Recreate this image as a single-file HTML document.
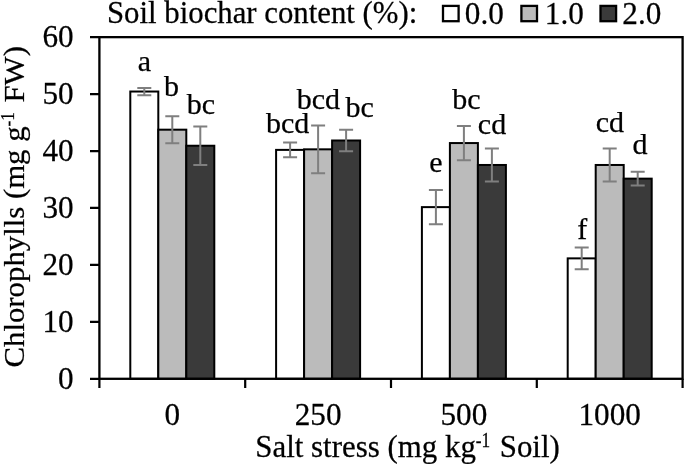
<!DOCTYPE html>
<html><head><meta charset="utf-8"><title>Chlorophylls chart</title>
<style>
html,body{margin:0;padding:0;background:#fff;}
body{width:685px;height:464px;overflow:hidden;}
svg{display:block;}
text{font-family:"Liberation Serif","Times New Roman",serif;fill:#000;stroke:#000;stroke-width:0.25px;}
</style></head><body>
<svg width="685" height="464" viewBox="0 0 685 464">
<rect x="0" y="0" width="685" height="464" fill="#fff"/>

<rect x="130.30" y="91.53" width="28.00" height="287.27" fill="#ffffff" stroke="#000" stroke-width="2"/>
<rect x="158.30" y="129.68" width="28.00" height="249.12" fill="#bbbbbb" stroke="#000" stroke-width="2"/>
<rect x="186.30" y="145.74" width="28.00" height="233.06" fill="#3a3a3a" stroke="#000" stroke-width="2"/>
<rect x="276.10" y="149.89" width="28.00" height="228.91" fill="#ffffff" stroke="#000" stroke-width="2"/>
<rect x="304.10" y="149.33" width="28.00" height="229.47" fill="#bbbbbb" stroke="#000" stroke-width="2"/>
<rect x="332.10" y="140.50" width="28.00" height="238.30" fill="#3a3a3a" stroke="#000" stroke-width="2"/>
<rect x="421.90" y="207.12" width="28.00" height="171.68" fill="#ffffff" stroke="#000" stroke-width="2"/>
<rect x="449.90" y="143.06" width="28.00" height="235.74" fill="#bbbbbb" stroke="#000" stroke-width="2"/>
<rect x="477.90" y="164.98" width="28.00" height="213.82" fill="#3a3a3a" stroke="#000" stroke-width="2"/>
<rect x="567.70" y="258.37" width="28.00" height="120.43" fill="#ffffff" stroke="#000" stroke-width="2"/>
<rect x="595.70" y="164.98" width="28.00" height="213.82" fill="#bbbbbb" stroke="#000" stroke-width="2"/>
<rect x="623.70" y="178.65" width="28.00" height="200.15" fill="#3a3a3a" stroke="#000" stroke-width="2"/>
<path d="M144.30 87.89V95.17M137.30 87.89H151.30M137.30 95.17H151.30" stroke="#7f7f7f" stroke-width="2" fill="none"/>
<path d="M172.30 116.13V143.23M165.30 116.13H179.30M165.30 143.23H179.30" stroke="#7f7f7f" stroke-width="2" fill="none"/>
<path d="M200.30 126.38V165.10M193.30 126.38H207.30M193.30 165.10H207.30" stroke="#7f7f7f" stroke-width="2" fill="none"/>
<path d="M290.10 142.49V157.30M283.10 142.49H297.10M283.10 157.30H297.10" stroke="#7f7f7f" stroke-width="2" fill="none"/>
<path d="M318.10 125.41V173.24M311.10 125.41H325.10M311.10 173.24H325.10" stroke="#7f7f7f" stroke-width="2" fill="none"/>
<path d="M346.10 129.68V151.32M339.10 129.68H353.10M339.10 151.32H353.10" stroke="#7f7f7f" stroke-width="2" fill="none"/>
<path d="M435.90 190.04V224.20M428.90 190.04H442.90M428.90 224.20H442.90" stroke="#7f7f7f" stroke-width="2" fill="none"/>
<path d="M463.90 125.98V160.14M456.90 125.98H470.90M456.90 160.14H470.90" stroke="#7f7f7f" stroke-width="2" fill="none"/>
<path d="M491.90 148.47V181.50M484.90 148.47H498.90M484.90 181.50H498.90" stroke="#7f7f7f" stroke-width="2" fill="none"/>
<path d="M581.70 247.55V269.19M574.70 247.55H588.70M574.70 269.19H588.70" stroke="#7f7f7f" stroke-width="2" fill="none"/>
<path d="M609.70 148.47V181.50M602.70 148.47H616.70M602.70 181.50H616.70" stroke="#7f7f7f" stroke-width="2" fill="none"/>
<path d="M637.70 171.82V185.48M630.70 171.82H644.70M630.70 185.48H644.70" stroke="#7f7f7f" stroke-width="2" fill="none"/>
<rect x="99.4" y="37.15" width="583.20" height="341.65" fill="none" stroke="#000" stroke-width="2.3"/>
<path d="M90.00 378.80H99.40M90.00 321.86H99.40M90.00 264.92H99.40M90.00 207.97H99.40M90.00 151.03H99.40M90.00 94.09H99.40M90.00 37.15H99.40M99.40 378.80V388.00M245.20 378.80V388.00M391.00 378.80V388.00M536.80 378.80V388.00M682.60 378.80V388.00" stroke="#000" stroke-width="2.2" fill="none"/>
<text transform="translate(73.60 389.00) scale(1 1.035)" font-size="31.2" text-anchor="end">0</text>
<text transform="translate(73.60 332.06) scale(1 1.035)" font-size="31.2" text-anchor="end">10</text>
<text transform="translate(73.60 275.12) scale(1 1.035)" font-size="31.2" text-anchor="end">20</text>
<text transform="translate(73.60 218.17) scale(1 1.035)" font-size="31.2" text-anchor="end">30</text>
<text transform="translate(73.60 161.23) scale(1 1.035)" font-size="31.2" text-anchor="end">40</text>
<text transform="translate(73.60 104.29) scale(1 1.035)" font-size="31.2" text-anchor="end">50</text>
<text transform="translate(73.60 47.35) scale(1 1.035)" font-size="31.2" text-anchor="end">60</text>
<text transform="translate(172.30 425.30) scale(1 1.035)" font-size="31.2" text-anchor="middle">0</text>
<text transform="translate(318.10 425.30) scale(1 1.035)" font-size="31.2" text-anchor="middle">250</text>
<text transform="translate(463.90 425.30) scale(1 1.035)" font-size="31.2" text-anchor="middle">500</text>
<text transform="translate(609.70 425.30) scale(1 1.035)" font-size="31.2" text-anchor="middle">1000</text>
<text x="144.5" y="70.7" font-size="30" text-anchor="middle">a</text>
<text x="171.5" y="96.3" font-size="30" text-anchor="middle">b</text>
<text x="201" y="114.1" font-size="30" text-anchor="middle">bc</text>
<text x="287.7" y="132.6" font-size="30" text-anchor="middle">bcd</text>
<text x="318.4" y="108.7" font-size="30" text-anchor="middle">bcd</text>
<text x="359.6" y="116.5" font-size="30" text-anchor="middle">bc</text>
<text x="435.8" y="171.8" font-size="30" text-anchor="middle">e</text>
<text x="466.4" y="109.1" font-size="30" text-anchor="middle">bc</text>
<text x="492" y="134.0" font-size="30" text-anchor="middle">cd</text>
<text x="582.3" y="238.5" font-size="30" text-anchor="middle">f</text>
<text x="609.8" y="132.2" font-size="30" text-anchor="middle">cd</text>
<text x="640" y="154.3" font-size="30" text-anchor="middle">d</text>
<text transform="translate(255.30 457.30) scale(1 1.01)" font-size="30.9" text-anchor="start">Salt stress (mg kg<tspan font-size="20" dy="-10.3" textLength="14.4" lengthAdjust="spacingAndGlyphs">-1</tspan><tspan dy="10.3" dx="1.8"> Soil)</tspan></text>
<text transform="translate(23.60 367.50) rotate(-90) scale(1 0.95)" font-size="30.8" text-anchor="start">Chlorophylls (mg g<tspan font-size="20" dy="-10.3" textLength="14.4" lengthAdjust="spacingAndGlyphs">-1</tspan><tspan dy="10.3" dx="1.8"> FW)</tspan></text>
<text transform="translate(107.00 22.90) scale(1 1.01)" font-size="30.8" text-anchor="start">Soil biochar content (%):</text>
<rect x="443.0" y="5.9" width="15.6" height="15.3" fill="#ffffff" stroke="#000" stroke-width="2.3"/>
<text transform="translate(464.80 23.60) scale(1 1.035)" font-size="31.2" text-anchor="start">0.0</text>
<rect x="521.4" y="5.9" width="15.6" height="15.3" fill="#bbbbbb" stroke="#000" stroke-width="2.3"/>
<text transform="translate(544.80 23.60) scale(1 1.035)" font-size="31.2" text-anchor="start">1.0</text>
<rect x="600.5" y="5.9" width="15.6" height="15.3" fill="#3a3a3a" stroke="#000" stroke-width="2.3"/>
<text transform="translate(622.30 23.60) scale(1 1.035)" font-size="31.2" text-anchor="start">2.0</text>
</svg></body></html>
